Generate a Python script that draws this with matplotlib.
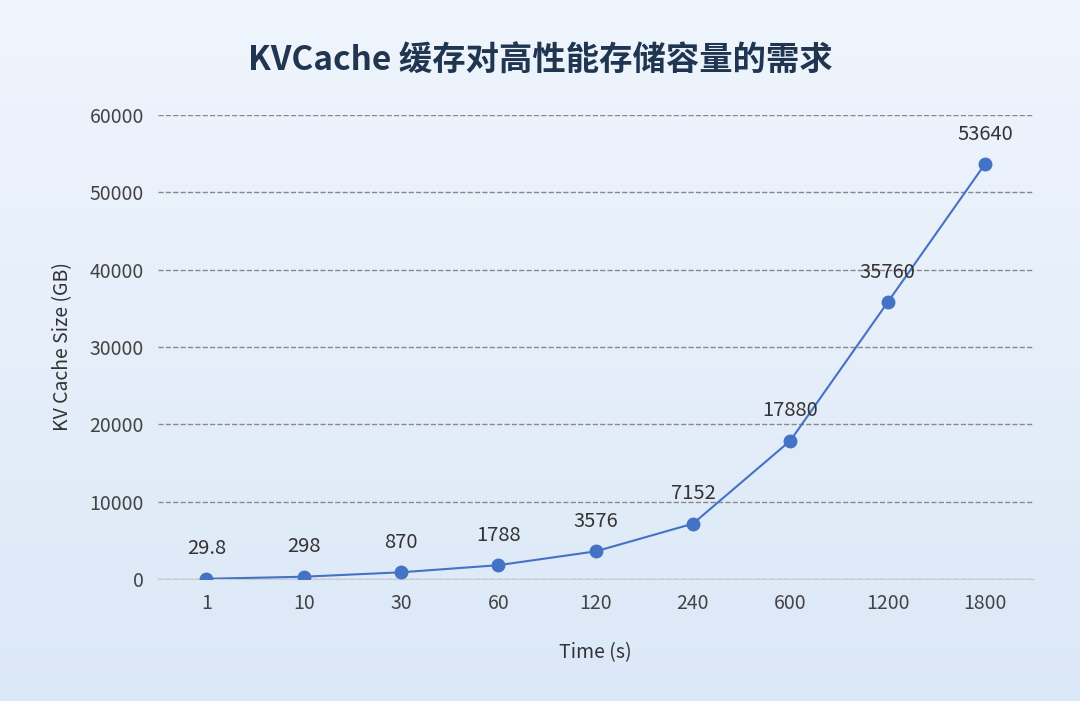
import matplotlib.pyplot as plt
import numpy as np

plt.rcParams['font.family'] = ['Noto Sans CJK SC', 'DejaVu Sans']

times = ['1', '10', '30', '60', '120', '240', '600', '1200', '1800']
sizes = [29.8, 298, 870, 1788, 3576, 7152, 17880, 35760, 53640]
size_labels = ['29.8', '298', '870', '1788', '3576', '7152', '17880', '35760', '53640']

fig = plt.figure(figsize=(10.8, 7.01), dpi=100)

# light blue gradient background
bg = fig.add_axes([0, 0, 1, 1], zorder=-10)
grad = np.linspace(0, 1, 256).reshape(-1, 1)
c_top = np.array([0.94, 0.96, 0.99])
c_bot = np.array([0.86, 0.91, 0.97])
img = c_top + (c_bot - c_top) * grad[:, :, None]
bg.imshow(img, aspect='auto', extent=[0, 1, 0, 1])
bg.axis('off')

ax = fig.add_axes([0.146, 0.174, 0.811, 0.662])
ax.patch.set_alpha(0)
x = np.arange(len(times))
ax.plot(x, sizes, color='#4472c4', lw=1.5, marker='o', ms=9, zorder=3)
for xi, yi, lab in zip(x, sizes, size_labels):
    ax.annotate(lab, (xi, yi), xytext=(0, 14), textcoords='offset points',
                ha='center', va='bottom', fontsize=14.5, color='#333333')

ax.set_xlim(-0.5, len(times) - 0.5)
ax.set_ylim(0, 60000)
ax.set_yticks(range(0, 60001, 10000))
ax.set_xticks(x)
ax.set_xticklabels(times)
ax.yaxis.grid(True, linestyle='--', color='#888888', lw=1)
ax.set_axisbelow(True)
for s in ['top', 'right', 'left']:
    ax.spines[s].set_visible(False)
ax.spines['bottom'].set_color('#cccccc')
ax.tick_params(length=0, labelsize=14, colors='#444444', pad=10)
ax.set_xlabel('Time (s)', fontsize=14, color='#333333', labelpad=20)
ax.set_ylabel('KV Cache Size (GB)', fontsize=14, color='#333333', labelpad=12)

fig.text(0.5, 0.913, 'KVCache 缓存对高性能存储容量的需求', ha='center', va='center',
         fontsize=24, fontweight='bold', color='#1f3550')

fig.savefig('out.png', dpi=100)
